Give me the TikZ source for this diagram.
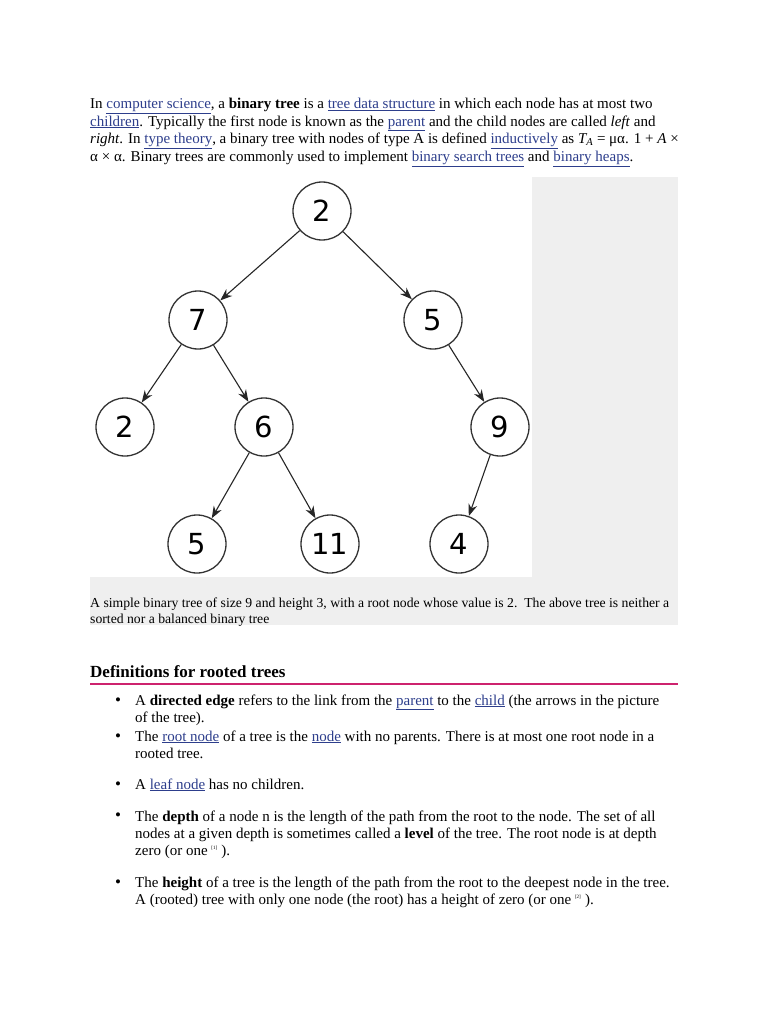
\documentclass[tikz,border=0pt]{standalone}
\usepackage{fontspec}
\setmainfont{Liberation Serif}
\newfontfamily\treefont{DejaVu Sans}
\usetikzlibrary{positioning,arrows.meta}

\definecolor{linkblue}{RGB}{45,62,140}
\definecolor{panelgray}{RGB}{239,239,239}
\definecolor{rulepink}{RGB}{205,35,110}
\newcommand{\lnk}[1]{\textcolor{linkblue}{\underline{#1}}}
\newcommand{\refmark}[1]{\textsuperscript{\tiny[#1]}}

\tikzset{
    vertex/.style={circle, draw=black!80, line width=1.3pt, minimum size=58pt, inner sep=0pt,
        font=\treefont\fontsize{29}{29}\selectfont},
    edge/.style={-{Stealth[length=12pt,width=9pt]}, line width=1.1pt, black!85},
    para/.style={anchor=base west, align=left, inner sep=0pt, font=\fontsize{15}{17.7}\selectfont},
    item/.style={anchor=base west, align=left, inner sep=0pt, font=\fontsize{15}{17}\selectfont},
    caption/.style={anchor=base west, align=left, inner sep=0pt, font=\fontsize{13.7}{16}\selectfont},
    dot/.style={anchor=base, inner sep=0pt, font=\fontsize{17}{17}\selectfont},
}

\begin{document}
\begin{tikzpicture}[x=1pt,y=-1pt]
        \useasboundingbox (0,0) rectangle (768,1024);
        \fill[white] (0,0) rectangle (768,1024);

        % intro (base = last line)
        \node[para] (intro) at (90,161.5) {In \lnk{computer science}, a \textbf{binary tree} is a \lnk{tree data structure} in which each node has at most two\\
            \lnk{children}. Typically the first node is known as the \lnk{parent} and the child nodes are called \textit{left} and\\
            \textit{right}. In \lnk{type theory}, a binary tree with nodes of type A is defined \lnk{inductively} as \textit{T\textsubscript{A}} = μα. 1 + \textit{A} ×\\
            α × α. Binary trees are commonly used to implement \lnk{binary search trees} and \lnk{binary heaps}.};

        % figure panel
        \fill[panelgray] (90,177) rectangle (678,625);
        \fill[white] (90,177) rectangle (532,577);

        \node[vertex] (root) at (322,211) {2};
        \node[vertex] (a) at (198,320) {7};
        \node[vertex] (b) at (433,320) {5};
        \node[vertex] (aa) at (125,427) {2};
        \node[vertex] (ab) at (264,427) {6};
        \node[vertex] (bb) at (500,427) {9};
        \node[vertex] (aba) at (197,544) {5};
        \node[vertex] (abb) at (330,544) {11};
        \node[vertex] (bba) at (459,544) {4};

        \draw[edge] (root) -- (a);
        \draw[edge] (root) -- (b);
        \draw[edge] (a) -- (aa);
        \draw[edge] (a) -- (ab);
        \draw[edge] (b) -- (bb);
        \draw[edge] (ab) -- (aba);
        \draw[edge] (ab) -- (abb);
        \draw[edge] (bb) -- (bba);

        \node[caption] (cap) at (90,623.5) {A simple binary tree of size 9 and height 3, with a root node whose value is 2.\ \ The above tree is neither a\\
            sorted nor a balanced binary tree};

        % definitions
        \node[anchor=base west, inner sep=0pt, font=\fontsize{17}{18}\selectfont\bfseries] (head) at (90,677) {Definitions for rooted trees};
        \draw[rulepink, line width=1.6pt] (90,684) -- (678,684);

        \node[dot] (d1) at (118,705) {•};
        \node[item] (t1) at (135,722) {A \textbf{directed edge} refers to the link from the \lnk{parent} to the \lnk{child} (the arrows in the picture\\
            of the tree).};
        \node[dot] (d2) at (118,741) {•};
        \node[item] (t2) at (135,758) {The \lnk{root node} of a tree is the \lnk{node} with no parents. There is at most one root node in a\\
            rooted tree.};
        \node[dot] (d3) at (118,789) {•};
        \node[item] (t3) at (135,789) {A \lnk{leaf node} has no children.};
        \node[dot] (d4) at (118,820) {•};
        \node[item] (t4) at (135,855) {The \textbf{depth} of a node n is the length of the path from the root to the node. The set of all\\
            nodes at a given depth is sometimes called a \textbf{level} of the tree. The root node is at depth\\
            zero (or one \refmark{1} ).};
        \node[dot] (d5) at (118,887) {•};
        \node[item] (t5) at (135,904) {The \textbf{height} of a tree is the length of the path from the root to the deepest node in the tree.\\
            A (rooted) tree with only one node (the root) has a height of zero (or one \refmark{2} ).};
    \end{tikzpicture}
\end{document}
